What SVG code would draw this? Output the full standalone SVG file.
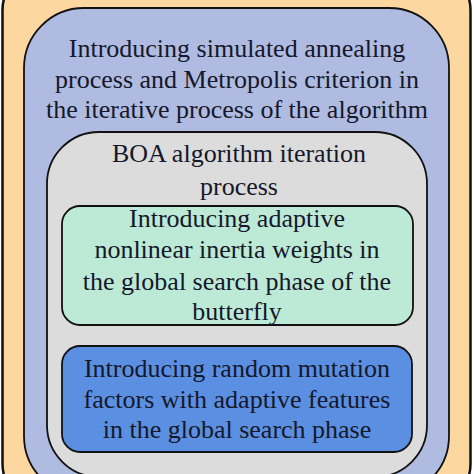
<svg xmlns="http://www.w3.org/2000/svg" width="474" height="474" viewBox="0 0 474 474">
<style>
.box{stroke:#111;stroke-width:1.8}
.t{font-family:"Liberation Serif","Times New Roman",serif;font-size:26px;fill:#15182a;text-anchor:middle}
</style>
<rect x="0" y="0" width="474" height="474" fill="#ffffff"/>
<g id="outer">
<rect x="2.5" y="-30" width="468" height="534" rx="40" fill="#fcd7a0" stroke="#111" stroke-width="2.5"/>
</g>
<g id="sa-node">
<rect class="box" x="24" y="8" width="425" height="488" rx="60" fill="#afbbe0"/>
<text class="t" x="237" y="57">Introducing simulated annealing</text>
<text class="t" x="237" y="88">process and Metropolis criterion in</text>
<text class="t" x="237" y="118">the iterative process of the algorithm</text>
</g>
<g id="boa-node">
<rect class="box" x="47" y="132" width="380" height="345" rx="52" fill="#dcdcdc"/>
<text class="t" x="239" y="162">BOA algorithm iteration</text>
<text class="t" x="239" y="195">process</text>
</g>
<g id="inertia-node">
<rect class="box" x="62" y="206" width="351" height="119" rx="18" fill="#bcead6"/>
<text class="t" x="237" y="227">Introducing adaptive</text>
<text class="t" x="237" y="258">nonlinear inertia weights in</text>
<text class="t" x="237" y="290">the global search phase of the</text>
<text class="t" x="237" y="320">butterfly</text>
</g>
<g id="mutation-node">
<rect class="box" x="62" y="346" width="350" height="106" rx="18" fill="#5b8fe2"/>
<text class="t" x="237" y="377">Introducing random mutation</text>
<text class="t" x="237" y="408">factors with adaptive features</text>
<text class="t" x="237" y="438">in the global search phase</text>
</g>
<g id="connectors"></g>
</svg>
